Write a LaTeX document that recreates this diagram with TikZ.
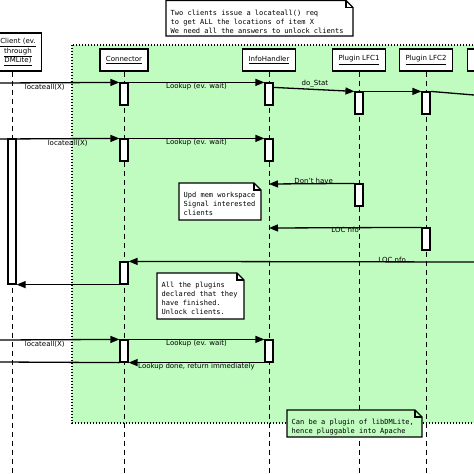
\documentclass[tikz,border=0pt]{standalone}
\usepackage{fontspec}
\setmainfont{DejaVu Sans}
\newfontfamily\notefont{DejaVu Sans Mono}
\usetikzlibrary{arrows.meta,positioning}
\definecolor{foreground}{RGB}{0,0,0}
\definecolor{frameback}{RGB}{192,252,192}
\tikzset{
  head/.style={draw=foreground,line width=1.4pt,fill=white,inner xsep=6pt,
    minimum height=22pt,align=center,font=\fontsize{7}{9.5}\selectfont},
  life/.style={draw=foreground,line width=0.9pt,dash pattern=on 5pt off 4pt},
  act/.style={draw=foreground,line width=1.2pt,fill=white,minimum width=8pt,
    minimum height=22pt,inner sep=0pt},
  msg/.style={draw=foreground,line width=1.3pt,-{Triangle[length=9pt,width=7pt]}},
  wire/.style={draw=foreground,line width=1.3pt},
  lbl/.style={inner sep=0pt,font=\fontsize{7}{8}\selectfont},
  frame/.style={fill=frameback,draw=foreground,line width=1.4pt,
    dash pattern=on 1.4pt off 1.6pt},
  note/.style={draw=foreground,line width=1.2pt},
  notetext/.style={inner sep=0pt,anchor=north west,align=left,
    font=\notefont\fontsize{7}{9}\selectfont},
}
% note with a folded corner: name, top left, bottom right, fill, text
\newcommand{\notebox}[5]{%
  \coordinate (#1nw) at (#2);
  \coordinate (#1se) at (#3);
  \filldraw[note,fill=#4] (#1nw) -- ([xshift=-7pt]#1nw -| #1se)
    -- ([yshift=-7pt]#1nw -| #1se) -- (#1se) -- (#1nw |- #1se) -- cycle;
  \draw[note] ([xshift=-7pt]#1nw -| #1se) -- ++(0,7) -- ++(7,0);
  \node[notetext] (#1) at ([shift={(4.5pt,-9pt)}]#1nw) {#5};
}

\begin{document}
\begin{tikzpicture}[x=1pt,y=-1pt]
  \useasboundingbox (0,0) rectangle (474,474);
  \clip (0,0) rectangle (474,474);

  % plugin frame
  \filldraw[frame] (72,45) rectangle (490,423);

  % participants
  \node[head,minimum width=46pt,minimum height=38pt] (client) at (18,52)
    {\underline{Client (ev.}\\\underline{through}\\\underline{DMLite)}};
  \node[head] (connector) at (124,60) {\underline{Connector}};
  \node[head] (infohandler) at (269,60) {\underline{InfoHandler}};
  \node[head] (lfc1) at (359,60) {\underline{Plugin LFC1}};
  \node[head] (lfc2) at (426,60) {\underline{Plugin LFC2}};
  \node[head,minimum width=53pt] (lfc3) at (494,60) {};

  \draw[life] ([xshift=-6pt]client.south) -- ++(0,410);
  \foreach \h in {connector,infohandler,lfc1,lfc2}
    \draw[life] (\h.south) -- ++(0,410);

  % activations
  \node[act,minimum height=145pt] (cl) at (12,211.5) {};
  \foreach \n/\x/\y in {c1/124/83,i1/269/83,p1a/359/92,p2a/426/92,
                        c2/124/139,i2/269/139,p1b/359/184,p2b/426/228,
                        c3/124/262,c4/124/340,i3/269/340}
    \node[act] (\n) at (\x,\y+11) {};

  \coordinate (w1) at (0,83);
  \coordinate (w2) at (0,139);
  \coordinate (w3) at (0,340);
  \coordinate (w4) at (0,362);
  \coordinate (e1) at (474,95);
  \coordinate (e2) at (474,262);
  \coordinate (ih1) at (269,184);
  \coordinate (ih2) at (269,228);

  % first request
  \draw[msg] (w1) -- node[lbl,below=0.5pt,pos=.375] (t1) {locateall(X)} (c1.north west);
  \draw[msg] (c1.north east) -- node[lbl,below=0.5pt] (t2) {Lookup (ev. wait)} (i1.north west);
  \draw[msg] ([yshift=-5pt]i1.north east) -- node[lbl,above=2pt,pos=.51] (t3) {do\_Stat} (p1a.north west);
  \draw[msg] (p1a.north east) -- (p2a.north west);
  \draw[wire] (p2a.north east) -- (e1);

  % second request
  \draw[msg] (w2) -- node[lbl,below=0.5pt,pos=.567] (t4) {locateall(X)} (c2.north west);
  \draw[msg] (c2.north east) -- node[lbl,below=0.5pt] (t5) {Lookup (ev. wait)} (i2.north west);

  % answers
  \draw[msg] (p1b.north west) -- node[lbl,above=-0.5pt,pos=.477] (t6) {Don't have} (ih1);
  \draw[msg] (p2b.north west) -- node[lbl,below=-1pt,pos=.5] (t7) {LOC nfo} (ih2);
  \draw[msg] (e2) -- node[lbl,above=-1pt,pos=.237] (t8) {LOC nfo} (c3.north east);
  \draw[msg] (c3.south west) -- (cl.south east);

  % third request
  \draw[msg] (w3) -- node[lbl,below=0.5pt,pos=.375] (t9) {locateall(X)} (c4.north west);
  \draw[msg] (c4.north east) -- node[lbl,below=0.5pt] (t10) {Lookup (ev. wait)} (i3.north west);
  \draw[msg] (i3.south west) -- node[lbl,below=-0.5pt] (t11) {Lookup done, return immediately} (c4.south east);
  \draw[wire] (c4.south west) -- (w4);

  % notes
  \notebox{n1}{166,0.5}{353,36}{white}{Two clients issue a locateall() req\\to get ALL the locations of item X\\We need all the answers to unlock clients}
  \notebox{n2}{179,183}{261,220}{white}{Upd mem workspace\\Signal interested\\clients}
  \notebox{n3}{157,273}{244,319}{white}{All the plugins\\declared that they\\have finished.\\Unlock clients.}
  \notebox{n4}{287,410}{422,437}{frameback}{Can be a plugin of libDMLite,\\hence pluggable into Apache}
\end{tikzpicture}
\end{document}
